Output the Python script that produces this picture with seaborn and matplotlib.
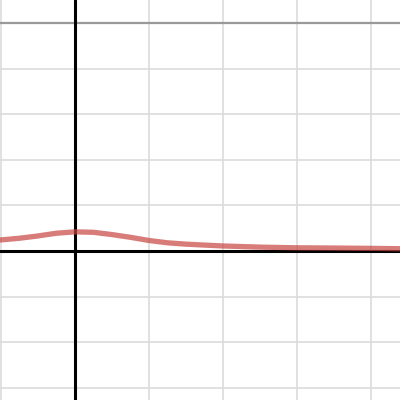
import matplotlib
matplotlib.use("Agg")
import matplotlib.pyplot as plt
import seaborn as sns
import pandas as pd

# values
x_vals = [-1.02, -0.75, -0.5, -0.25, 0.0, 0.25, 0.5, 0.75, 1.0, 1.25, 1.5, 2.0, 2.5, 3.0, 3.5, 4.0, 4.4]
y_vals = [0.24, 0.28, 0.33, 0.39, 0.42, 0.41, 0.36, 0.30, 0.23, 0.18, 0.15, 0.11, 0.085, 0.07, 0.065, 0.058, 0.05]
ref_level = 5.0
x_ticks = [-1, 0, 1, 2, 3, 4]
y_ticks = [-3, -2, -1, 0, 1, 2, 3, 4, 5]

df = pd.DataFrame({"x": x_vals, "y": y_vals})

sns.set_style("white")
fig = plt.figure(figsize=(4, 4), dpi=100)
ax = fig.add_axes([0, 0, 1, 1])

ax.set_xlim(-75 / 74, 325 / 74)
ax.set_ylim(-149 / 45.6, 251 / 45.6)

for xt in x_ticks:
    ax.axvline(xt, color="#dcdcdc", lw=1.2, zorder=0)
for yt in y_ticks:
    ax.axhline(yt, color="#dcdcdc", lw=1.2, zorder=0)

ax.axhline(ref_level, color="#999999", lw=1.6, zorder=1)
ax.axhline(0, color="black", lw=2.2, zorder=2)
ax.axvline(0, color="black", lw=2.2, zorder=2)

sns.lineplot(data=df, x="x", y="y", ax=ax, color="#c74440", alpha=0.7, lw=3.8, zorder=3)

ax.set_xticks([])
ax.set_yticks([])
ax.set_xlabel("")
ax.set_ylabel("")
for s in ax.spines.values():
    s.set_visible(False)

fig.savefig("out.png", dpi=100)
